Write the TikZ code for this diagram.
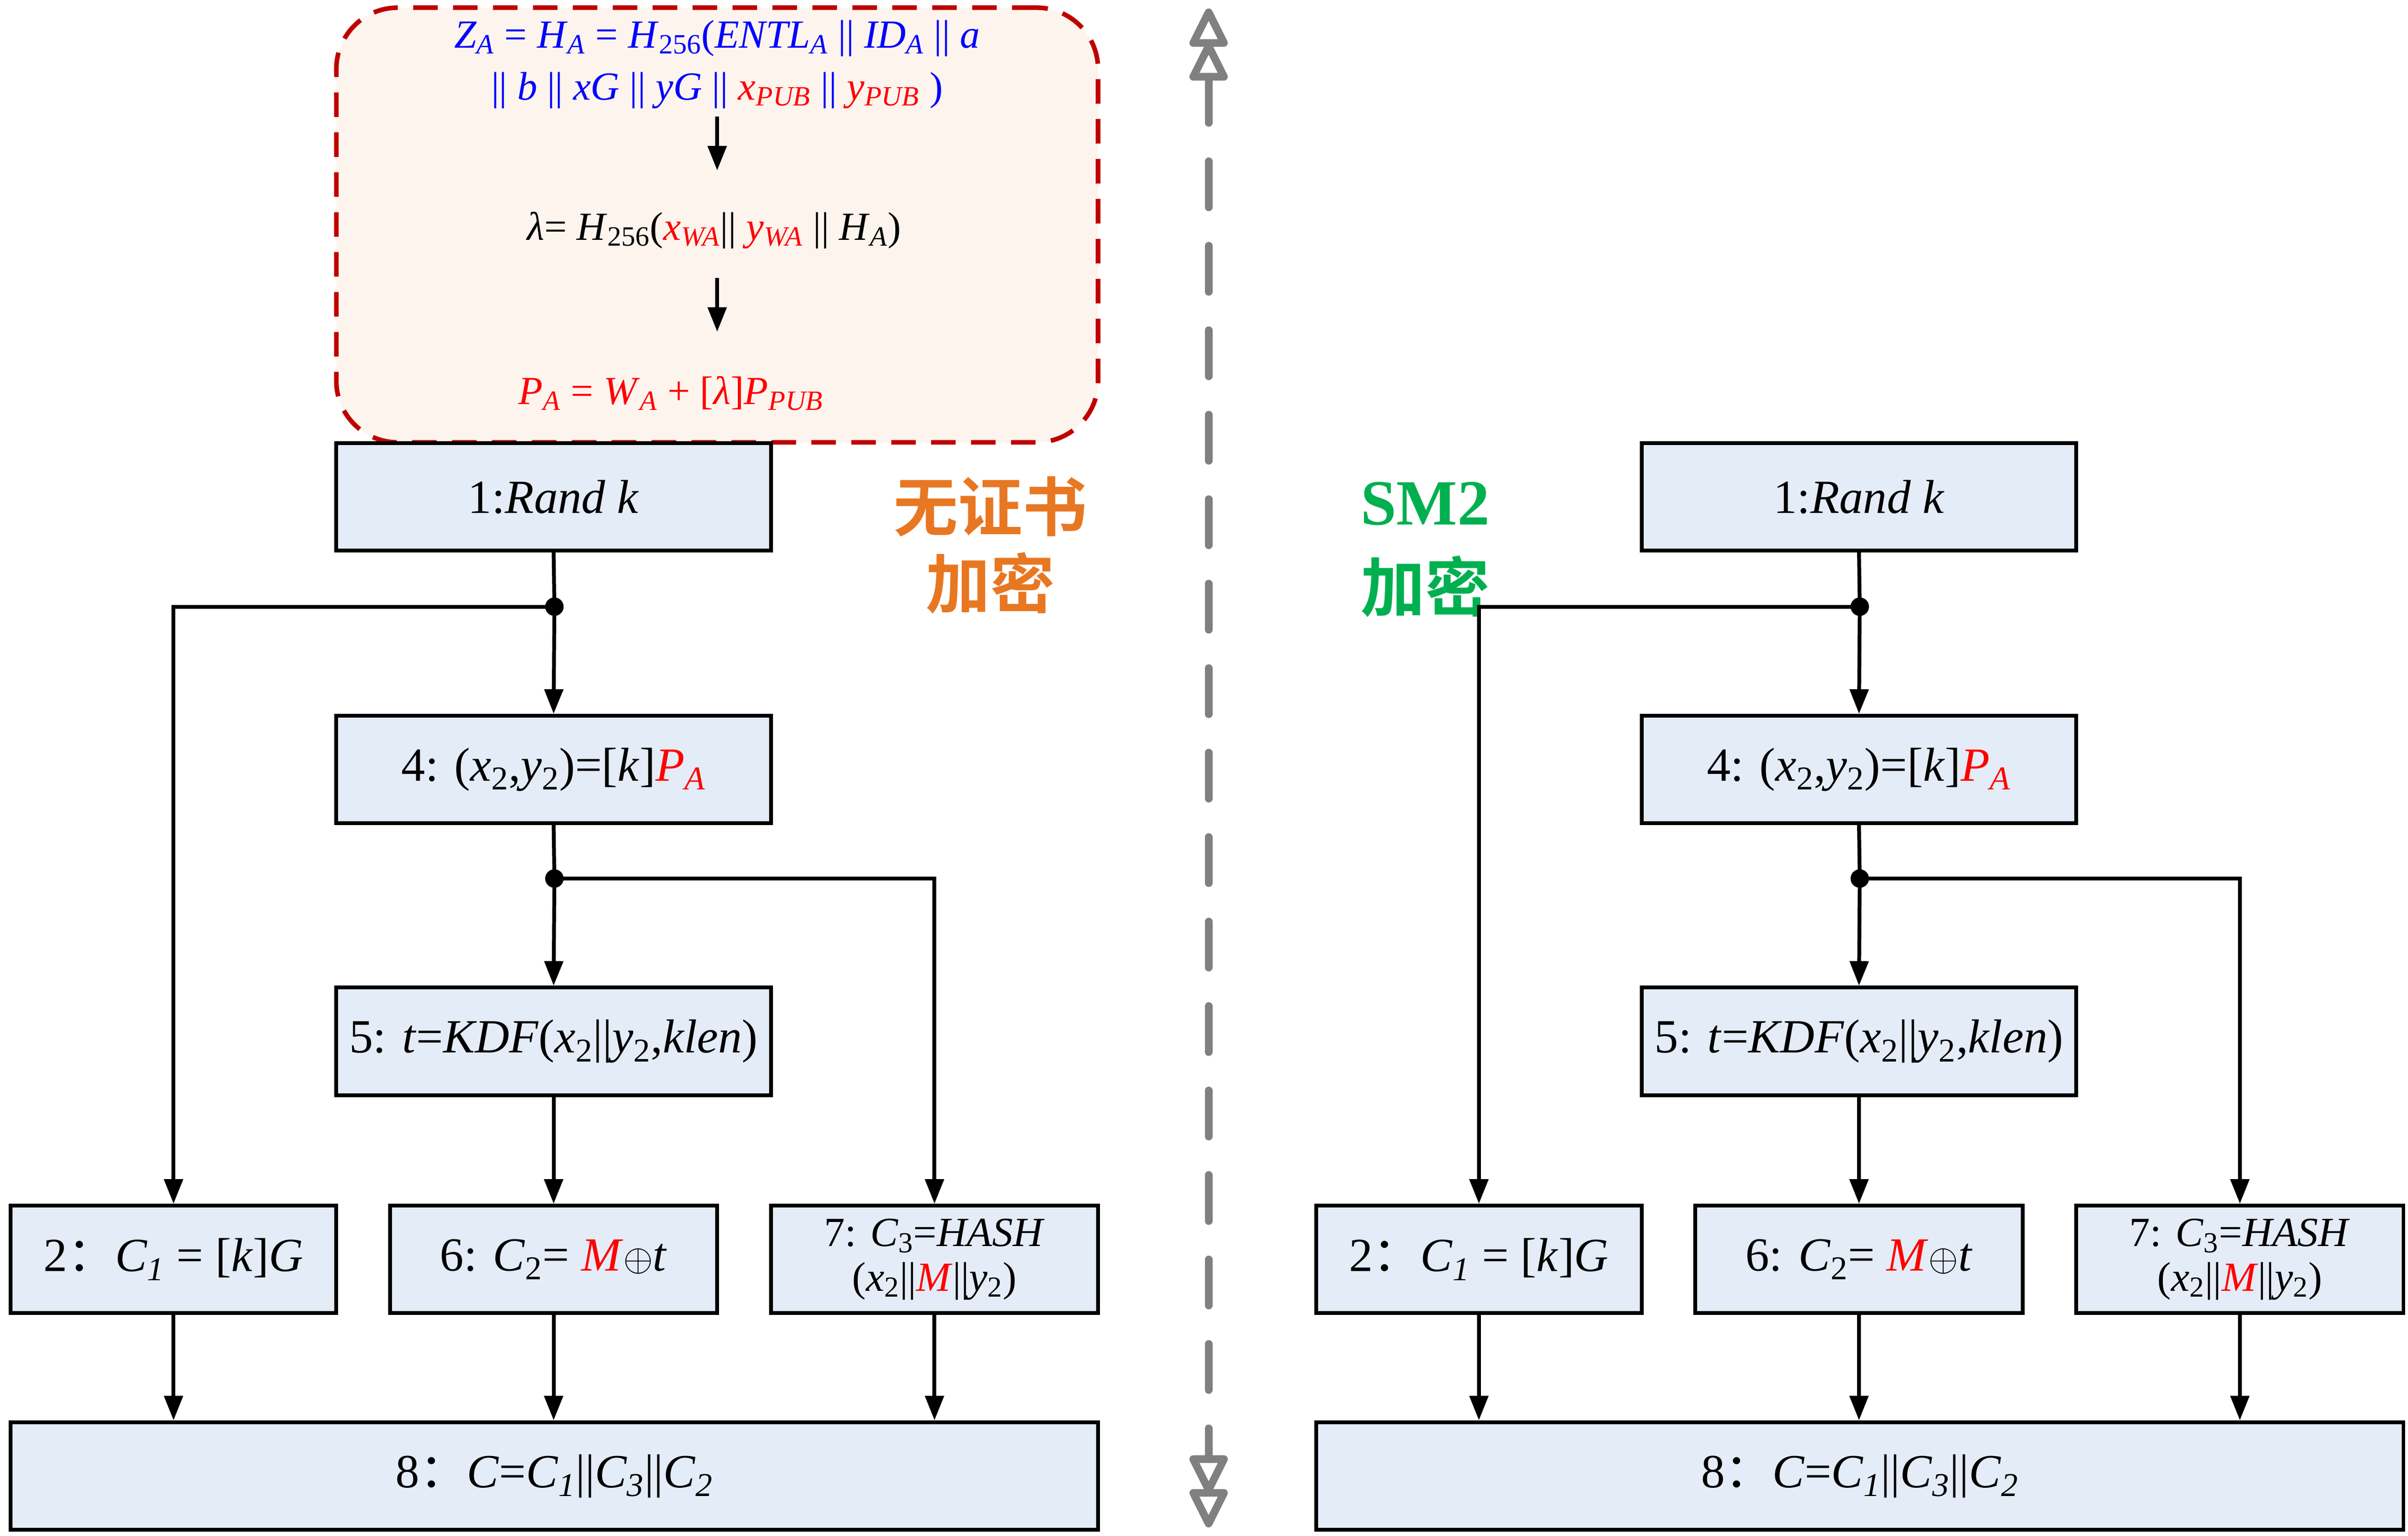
\documentclass[tikz,border=0pt]{standalone}
\usepackage{fontspec}
\setmainfont{Liberation Serif}
\newfontfamily\cjk{Noto Sans CJK SC Bold}
\newfontfamily\cjkr{Noto Sans CJK SC}
\usetikzlibrary{arrows.meta}
\newcommand\sbx[1]{\textsubscript{#1}}
\newcommand\iit[1]{\textit{#1}}
\newcommand\fcolon{{\cjkr ：}}
\definecolor{boxfill}{HTML}{E4ECF7}
\definecolor{peach}{HTML}{FDF4EE}
\definecolor{dred}{HTML}{C00000}
\definecolor{orng}{HTML}{E87722}
\definecolor{grn}{HTML}{00B050}
\begin{document}
\begin{tikzpicture}[x=1pt,y=-1pt,
 box/.style={draw=black,line width=2.5pt,fill=boxfill,inner sep=0pt,font=\fontsize{31}{33}\selectfont},
 ln/.style={line width=2.5pt},
 arr/.style={ln,-{Triangle[length=16pt,width=12pt]}},
 dot/.style={circle,fill=black,inner sep=0pt,minimum size=12pt},
 tt/.style={font=\fontsize{26}{30}\selectfont}]
\useasboundingbox (0,0) rectangle (1568,1000);
% top dashed box
\node[draw=dred,line width=3pt,dash pattern=on 16pt off 10pt,fill=peach,rounded corners=40pt,minimum width=496pt,minimum height=283pt] (top) at (467,146.5) {};
\node[tt,text=blue] (z1) at (467,25) {\iit{Z}\sbx{\iit{A}} = \iit{H}\sbx{\iit{A}} = \iit{H}\sbx{256}(\iit{ENTL}\sbx{\iit{A}} || \iit{ID}\sbx{\iit{A}} || \iit{a}};
\node[tt,text=blue] (z2) at (467,59) {|| \iit{b} || \iit{xG} || \iit{yG} || \textcolor{red}{\iit{x}\sbx{\iit{PUB}}} || \textcolor{red}{\iit{y}\sbx{\iit{PUB}}} )};
\node[tt] (lam) at (465,150) {\iit{λ}= \iit{H}\sbx{256}(\textcolor{red}{\iit{x}\sbx{\iit{WA}}}|| \textcolor{red}{\iit{y}\sbx{\iit{WA}}} || \iit{H}\sbx{\iit{A}})};
\node[tt,text=red] (pa) at (437,256) {\iit{P}\sbx{\iit{A}} = \iit{W}\sbx{\iit{A}} + [\iit{λ}]\iit{P}\sbx{\iit{PUB}}};
\coordinate (a1) at (467,76); \coordinate (a2) at (467,111);
\coordinate (b1) at (467,181); \coordinate (b2) at (467,216);
\draw[arr] (a1) -- (a2);
\draw[arr] (b1) -- (b2);
% divider
\draw[gray,line width=5pt,line cap=round,dash pattern=on 30pt off 25pt] (787,50) -- (787,950);
\foreach \y in {8,30} \draw[gray,line width=5pt,line join=round] (787,\y) -- (777,\y+20) -- (797,\y+20) -- cycle;
\foreach \y in {950,972} \draw[gray,line width=5pt,line join=round] (787,\y+20) -- (777,\y) -- (797,\y) -- cycle;
% labels
\node[font=\cjk\fontsize{42}{50}\selectfont,text=orng,align=center] (lbl1) at (645,355) {无证书\\加密};
\node[font=\bfseries\fontsize{42}{46}\selectfont,text=grn] (lbl2) at (928,328) {SM2};
\node[font=\cjk\fontsize{42}{46}\selectfont,text=grn] (lbl3) at (928,382) {加密};
\foreach \s/\dx in {L/0,R/850}{
 \begin{scope}[xshift=\dx pt]
 \node[box,minimum width=283pt,minimum height=70pt] (r\s) at (360.5,323.5) {1:\iit{Rand k}};
 \node[box,minimum width=283pt,minimum height=70pt] (f\s) at (360.5,501) {4: (\iit{x}\sbx{2},\iit{y}\sbx{2})=[\iit{k}]\textcolor{red}{\iit{P}\sbx{\iit{A}}}};
 \node[box,minimum width=283pt,minimum height=70pt] (k\s) at (360.5,678) {5: \iit{t}=\iit{KDF}(\iit{x}\sbx{2}||\iit{y}\sbx{2},\iit{klen})};
 \node[box,minimum width=212pt,minimum height=70pt] (c1\s) at (113,820) {2\fcolon\iit{C}\sbx{\iit{1}} = [\iit{k}]\iit{G}};
 \node[box,minimum width=213pt,minimum height=70pt] (c2\s) at (360.5,820) {6: \iit{C}\sbx{2}= \textcolor{red}{\iit{M}}$\oplus$\iit{t}};
 \node[box,minimum width=213pt,minimum height=70pt,align=center,font=\fontsize{27}{29}\selectfont] (c3\s) at (608.5,820) {7: \iit{C}\sbx{3}=\iit{HASH}\\(\iit{x}\sbx{2}||\textcolor{red}{\iit{M}}||\iit{y}\sbx{2})};
 \node[box,minimum width=708pt,minimum height=70pt] (c\s) at (361,961) {8\fcolon\iit{C}=\iit{C}\sbx{\iit{1}}||\iit{C}\sbx{\iit{3}}||\iit{C}\sbx{\iit{2}}};
 \node[dot] (d1\s) at (361,395) {};
 \node[dot] (d2\s) at (361,572) {};
 \end{scope}
 \draw[ln] (r\s.south) -- (d1\s.center);
 \draw[arr] (d1\s.center) -- (f\s.north);
 \draw[arr] (d1\s.center) -| (c1\s.north);
 \draw[ln] (f\s.south) -- (d2\s.center);
 \draw[arr] (d2\s.center) -- (k\s.north);
 \draw[arr] (d2\s.center) -| (c3\s.north);
 \draw[arr] (k\s.south) -- (c2\s.north);
 \draw[arr] (c1\s.south) -- (c1\s.south|-c\s.north);
 \draw[arr] (c2\s.south) -- (c2\s.south|-c\s.north);
 \draw[arr] (c3\s.south) -- (c3\s.south|-c\s.north);
}
\end{tikzpicture}
\end{document}
